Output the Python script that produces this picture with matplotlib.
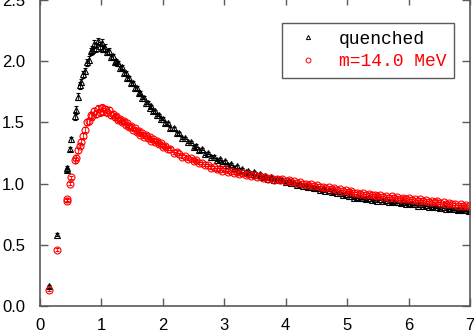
import matplotlib
matplotlib.use("Agg")
import matplotlib.pyplot as plt
from matplotlib.lines import Line2D
from matplotlib.ticker import FormatStrFormatter

# momentum values (shared by both data sets)
k = [
    0.155, 0.29, 0.44, 0.45, 0.50, 0.52, 0.58, 0.59, 0.62, 0.66,
    0.68, 0.71, 0.74, 0.77, 0.80, 0.83, 0.86, 0.89, 0.92, 0.95,
    0.98, 1.01, 1.04, 1.07, 1.10, 1.13, 1.16, 1.19, 1.22, 1.25,
    1.28, 1.31, 1.34, 1.37, 1.40, 1.43, 1.46, 1.49, 1.52, 1.55,
    1.58, 1.61, 1.64, 1.67, 1.70, 1.73, 1.76, 1.79, 1.82, 1.85,
    1.88, 1.91, 1.94, 1.97, 2.00, 2.04, 2.09, 2.13, 2.18, 2.23,
    2.27, 2.32, 2.37, 2.41, 2.46, 2.51, 2.55, 2.60, 2.65, 2.69,
    2.74, 2.79, 2.83, 2.88, 2.93, 2.97, 3.02, 3.07, 3.11, 3.16,
    3.21, 3.25, 3.30, 3.35, 3.39, 3.44, 3.49, 3.53, 3.58, 3.63,
    3.67, 3.72, 3.77, 3.81, 3.86, 3.91, 3.95, 4.00, 4.05, 4.09,
    4.14, 4.19, 4.23, 4.28, 4.33, 4.37, 4.42, 4.47, 4.51, 4.56,
    4.61, 4.65, 4.70, 4.75, 4.79, 4.84, 4.89, 4.93, 4.98, 5.03,
    5.07, 5.12, 5.17, 5.21, 5.26, 5.31, 5.35, 5.40, 5.45, 5.49,
    5.54, 5.59, 5.63, 5.68, 5.73, 5.77, 5.82, 5.87, 5.91, 5.96,
    6.01, 6.05, 6.10, 6.15, 6.19, 6.24, 6.29, 6.33, 6.38, 6.43,
    6.47, 6.52, 6.57, 6.61, 6.66, 6.71, 6.75, 6.80, 6.85, 6.89,
    6.94, 6.99,
]

# quenched
q_y = [
    0.16, 0.58, 1.11, 1.13, 1.28, 1.36, 1.55, 1.60, 1.71, 1.80,
    1.83, 1.89, 1.92, 1.99, 2.01, 2.08, 2.09, 2.14, 2.11, 2.16,
    2.12, 2.15, 2.10, 2.11, 2.07, 2.08, 2.03, 2.04, 1.99, 2.00,
    1.98, 1.94, 1.95, 1.90, 1.90, 1.86, 1.86, 1.82, 1.82, 1.78,
    1.78, 1.74, 1.74, 1.70, 1.70, 1.66, 1.66, 1.62, 1.63, 1.59,
    1.59, 1.56, 1.56, 1.53, 1.53, 1.49, 1.49, 1.45, 1.45, 1.41,
    1.41, 1.37, 1.37, 1.34, 1.34, 1.30, 1.31, 1.27, 1.28, 1.24,
    1.25, 1.22, 1.22, 1.19, 1.20, 1.17, 1.18, 1.15, 1.16, 1.13,
    1.14, 1.11, 1.12, 1.09, 1.10, 1.08, 1.09, 1.07, 1.075, 1.05,
    1.06, 1.04, 1.05, 1.03, 1.04, 1.025, 1.03, 1.01, 1.02, 1.005,
    1.005, 0.99, 0.995, 0.98, 0.98, 0.97, 0.97, 0.96, 0.96, 0.95,
    0.955, 0.94, 0.945, 0.93, 0.935, 0.92, 0.925, 0.91, 0.915, 0.90,
    0.90, 0.885, 0.89, 0.88, 0.885, 0.87, 0.88, 0.865, 0.875, 0.86,
    0.87, 0.855, 0.865, 0.85, 0.86, 0.845, 0.85, 0.84, 0.845, 0.835,
    0.84, 0.83, 0.835, 0.82, 0.83, 0.815, 0.825, 0.81, 0.815, 0.805,
    0.81, 0.80, 0.805, 0.795, 0.80, 0.79, 0.795, 0.785, 0.79, 0.78,
    0.78, 0.775,
]
q_err = [
    0.010, 0.012, 0.015, 0.015, 0.015, 0.020, 0.030, 0.030, 0.025, 0.025,
    0.025, 0.025, 0.025, 0.030, 0.030, 0.030, 0.035, 0.030, 0.035, 0.030,
    0.035, 0.030, 0.030, 0.030, 0.025, 0.025, 0.025, 0.020, 0.020, 0.020,
    0.020, 0.020, 0.018, 0.018, 0.018, 0.016, 0.016, 0.016, 0.015, 0.015,
    0.015, 0.014, 0.014, 0.014, 0.013, 0.013, 0.013, 0.012, 0.012, 0.012,
    0.012, 0.012, 0.011, 0.011, 0.011, 0.011, 0.010, 0.010, 0.010, 0.010,
    0.010, 0.010, 0.010, 0.010, 0.010, 0.010, 0.010, 0.010, 0.010, 0.010,
    0.010, 0.010, 0.010, 0.010, 0.010, 0.010, 0.010, 0.010, 0.010, 0.010,
    0.010, 0.010, 0.010, 0.010, 0.010, 0.010, 0.010, 0.010, 0.010, 0.010,
    0.009, 0.009, 0.009, 0.009, 0.009, 0.009, 0.009, 0.009, 0.009, 0.009,
    0.009, 0.009, 0.009, 0.009, 0.009, 0.009, 0.009, 0.009, 0.009, 0.009,
    0.009, 0.009, 0.009, 0.009, 0.009, 0.009, 0.009, 0.009, 0.009, 0.009,
    0.008, 0.008, 0.008, 0.008, 0.008, 0.008, 0.008, 0.008, 0.008, 0.008,
    0.008, 0.008, 0.008, 0.008, 0.008, 0.008, 0.008, 0.008, 0.008, 0.008,
    0.008, 0.008, 0.008, 0.008, 0.008, 0.008, 0.008, 0.008, 0.008, 0.008,
    0.008, 0.008, 0.008, 0.008, 0.008, 0.008, 0.008, 0.008, 0.008, 0.008,
    0.008, 0.008,
]

# m = 14.0 MeV
m_y = [
    0.13, 0.46, 0.86, 0.87, 1.00, 1.05, 1.19, 1.21, 1.27, 1.31,
    1.34, 1.39, 1.44, 1.50, 1.51, 1.56, 1.55, 1.59, 1.57, 1.61,
    1.58, 1.62, 1.59, 1.61, 1.58, 1.60, 1.56, 1.57, 1.54, 1.55,
    1.52, 1.53, 1.50, 1.51, 1.48, 1.49, 1.46, 1.47, 1.44, 1.45,
    1.42, 1.43, 1.40, 1.41, 1.38, 1.40, 1.37, 1.38, 1.35, 1.36,
    1.34, 1.35, 1.32, 1.33, 1.30, 1.31, 1.28, 1.285, 1.25, 1.26,
    1.24, 1.22, 1.225, 1.20, 1.21, 1.185, 1.19, 1.165, 1.17, 1.15,
    1.15, 1.13, 1.135, 1.115, 1.12, 1.105, 1.115, 1.095, 1.10, 1.085,
    1.09, 1.075, 1.085, 1.07, 1.075, 1.06, 1.07, 1.055, 1.06, 1.045,
    1.05, 1.04, 1.045, 1.03, 1.04, 1.025, 1.035, 1.02, 1.025, 1.015,
    1.02, 1.005, 1.01, 0.995, 1.00, 0.99, 0.995, 0.98, 0.985, 0.97,
    0.975, 0.965, 0.97, 0.955, 0.96, 0.945, 0.955, 0.94, 0.945, 0.93,
    0.935, 0.92, 0.925, 0.915, 0.925, 0.91, 0.915, 0.905, 0.91, 0.90,
    0.905, 0.89, 0.90, 0.885, 0.895, 0.88, 0.89, 0.875, 0.885, 0.87,
    0.88, 0.865, 0.875, 0.86, 0.87, 0.855, 0.865, 0.85, 0.855, 0.845,
    0.855, 0.84, 0.845, 0.835, 0.84, 0.83, 0.835, 0.82, 0.83, 0.82,
    0.825, 0.815,
]
m_err = [
    0.010, 0.010, 0.012, 0.012, 0.015, 0.015, 0.020, 0.020, 0.020, 0.020,
    0.020, 0.022, 0.022, 0.025, 0.025, 0.025, 0.028, 0.028, 0.030, 0.028,
    0.030, 0.028, 0.028, 0.025, 0.025, 0.022, 0.022, 0.020, 0.020, 0.018,
    0.018, 0.016, 0.016, 0.015, 0.015, 0.014, 0.014, 0.013, 0.013, 0.012,
    0.012, 0.012, 0.011, 0.011, 0.011, 0.010, 0.010, 0.010, 0.010, 0.010,
    0.010, 0.010, 0.010, 0.010, 0.010, 0.010, 0.010, 0.010, 0.010, 0.010,
    0.009, 0.009, 0.009, 0.009, 0.009, 0.009, 0.009, 0.009, 0.009, 0.009,
    0.009, 0.009, 0.009, 0.009, 0.009, 0.009, 0.009, 0.009, 0.009, 0.009,
    0.009, 0.009, 0.009, 0.009, 0.009, 0.009, 0.009, 0.009, 0.009, 0.009,
    0.008, 0.008, 0.008, 0.008, 0.008, 0.008, 0.008, 0.008, 0.008, 0.008,
    0.008, 0.008, 0.008, 0.008, 0.008, 0.008, 0.008, 0.008, 0.008, 0.008,
    0.008, 0.008, 0.008, 0.008, 0.008, 0.008, 0.008, 0.008, 0.008, 0.008,
    0.008, 0.008, 0.008, 0.008, 0.008, 0.008, 0.008, 0.008, 0.008, 0.008,
    0.008, 0.008, 0.008, 0.008, 0.008, 0.008, 0.008, 0.008, 0.008, 0.008,
    0.008, 0.008, 0.008, 0.008, 0.008, 0.008, 0.008, 0.008, 0.008, 0.008,
    0.008, 0.008, 0.008, 0.008, 0.008, 0.008, 0.008, 0.008, 0.008, 0.008,
    0.008, 0.008,
]

labels = ["quenched", "m=14.0 MeV"]
x_ticks = [0, 1, 2, 3, 4, 5, 6, 7]
y_ticks = [0.0, 0.5, 1.0, 1.5, 2.0, 2.5]

axis_grey = "#5a5a5a"

fig = plt.figure(figsize=(4.74, 3.32), dpi=100)
# the original figure is cropped at the top, so the axes run slightly past it
ax = fig.add_axes([39.5 / 474, 26 / 332, 430.5 / 474, 308.7 / 332])

ax.errorbar(k, q_y, yerr=q_err, fmt="^", ms=4.6, mfc="none", mec="black",
            mew=0.8, ecolor="black", elinewidth=0.6, capsize=1.6,
            capthick=0.6)
ax.errorbar(k, m_y, yerr=m_err, fmt="o", ms=5, mfc="none", mec="red",
            mew=0.8, ecolor="red", elinewidth=0.6, capsize=1.6,
            capthick=0.6)

ax.set_xlim(0, 7)
ax.set_ylim(0, 2.52)
ax.set_xticks(x_ticks)
ax.set_yticks(y_ticks)
ax.yaxis.set_major_formatter(FormatStrFormatter("%.1f"))
ax.tick_params(direction="in", top=True, right=True, length=6, width=1,
               labelsize=12, color=axis_grey)
ax.tick_params(axis="x", pad=9)
ax.tick_params(axis="y", pad=10.5)
for lab in ax.get_xticklabels() + ax.get_yticklabels():
    lab.set_family("Liberation Sans")
for sp in ax.spines.values():
    sp.set_color(axis_grey)
    sp.set_linewidth(1.2)

handles = [
    Line2D([], [], ls="none", marker="^", ms=3, mfc="none", mec="black", mew=0.7),
    Line2D([], [], ls="none", marker="o", ms=3.5, mfc="none", mec="red", mew=0.7),
]
leg = ax.legend(handles, labels, loc="upper left", bbox_to_anchor=(0.563, 0.918),
                prop={"family": "Liberation Mono", "size": 13},
                frameon=True, fancybox=False, edgecolor=axis_grey, framealpha=1,
                handlelength=2.0, handletextpad=0.7, borderpad=0.45,
                labelspacing=0.3, borderaxespad=0)
leg.get_frame().set_linewidth(1)
for txt, col in zip(leg.get_texts(), ["black", "red"]):
    txt.set_color(col)

fig.savefig("out.png", dpi=100)
